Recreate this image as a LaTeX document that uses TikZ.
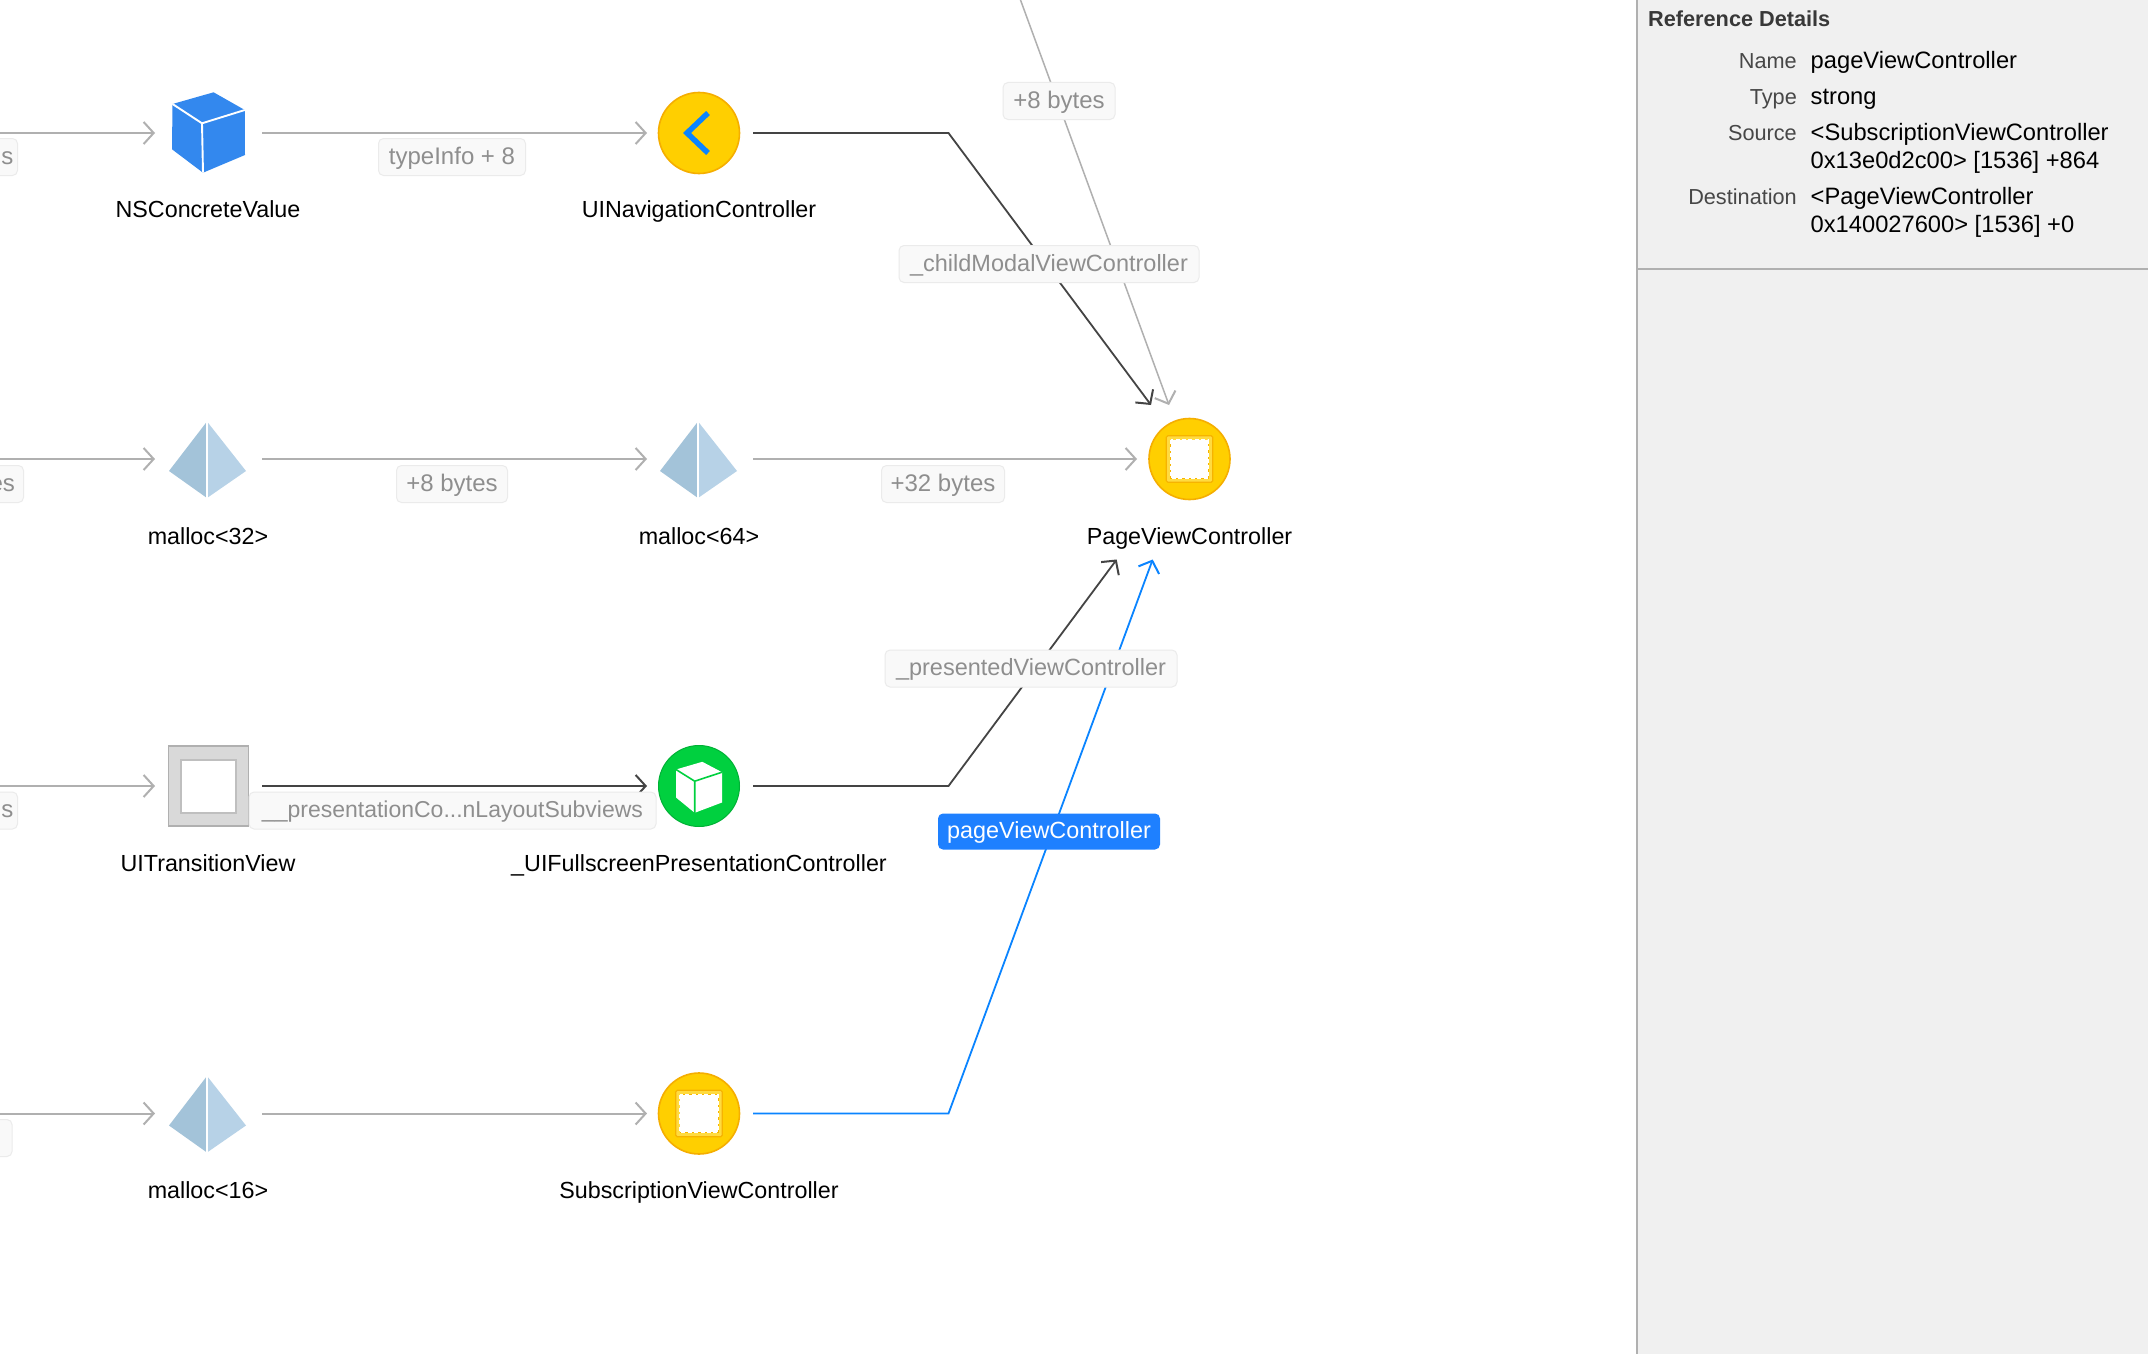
\documentclass[tikz,border=0pt]{standalone}
\usepackage{fontspec}
\setmainfont{Liberation Sans}
\usetikzlibrary{arrows.meta}
\definecolor{cgray}{HTML}{B0B0B0}
\definecolor{cdark}{HTML}{444444}
\definecolor{cblue}{HTML}{0A84FF}
\definecolor{selblue}{HTML}{1E80FF}
\definecolor{lblfill}{HTML}{F9F9F9}
\definecolor{lbledge}{HTML}{EBEBEB}
\definecolor{lbltext}{HTML}{8E8E8E}
\definecolor{panel}{HTML}{F0F0F0}
\definecolor{yfill}{HTML}{FFCF00}
\definecolor{yedge}{HTML}{F5AE00}
\definecolor{gfill}{HTML}{00D03F}
\definecolor{cubeblue}{HTML}{3388EE}
\definecolor{pyrL}{HTML}{A3C3D9}
\definecolor{pyrR}{HTML}{B7D2E7}
\tikzset{
  barbtip/.style={-{Straight Barb[length=10pt,width=22pt,line width=2pt]}},
  conn/.style={line width=2pt,color=cgray,barbtip},
  conndark/.style={line width=1.8pt,color=cdark,barbtip,line join=miter},
  connblue/.style={line width=1.8pt,color=cblue,barbtip},
  lbl/.style={rectangle,rounded corners=5pt,fill=lblfill,draw=lbledge,line width=1pt,text=lbltext,
    inner sep=0pt,minimum height=37pt,text height=20pt,text depth=6pt,font=\fontsize{23.5}{28}\selectfont},
  lblbig/.style={lbl,font=\fontsize{24}{28}\selectfont},
  lblsmall/.style={lbl,font=\fontsize{23}{28}\selectfont},
  lblsel/.style={rectangle,rounded corners=5pt,fill=selblue,text=white,inner sep=0pt,
    minimum height=36pt,text height=20pt,text depth=6pt,font=\fontsize{23.4}{28}\selectfont},
  captext/.style={anchor=base,text=black,inner sep=0pt,font=\fontsize{23.3}{28}\selectfont},
  anchorbox/.style={circle,minimum size=81pt,inner sep=0pt},
  ycirc/.style={anchorbox,fill=yfill,draw=yedge,line width=1.6pt},
  gcirc/.style={anchorbox,fill=gfill,draw=gfill!85!black,line width=1pt},
  keytext/.style={anchor=base east,inner sep=0pt,text=black!72,font=\fontsize{21.7}{26}\selectfont},
  valtext/.style={anchor=base west,inner sep=0pt,text=black,font=\fontsize{23.7}{28}\selectfont},
}
\begin{document}
\begin{tikzpicture}[x=1pt,y=-1pt]
\useasboundingbox (0,0) rectangle (2148,1354);
\fill[white] (0,0) rectangle (2148,1354);

% ---- panel
\fill[panel] (1637,0) rectangle (2148,1354);
\draw[cgray,line width=2pt] (1637,0) -- (1637,1354);
\draw[cgray,line width=2pt] (1637,268.5) -- (2148,268.5);

% ---- icon anchors
\node[anchorbox] (nsv) at (208,133) {};
\node[ycirc] (unc) at (699,133) {};
\node[anchorbox] (m32) at (208,459) {};
\node[anchorbox] (m64) at (699,459) {};
\node[ycirc] (pvc) at (1189.5,459) {};
\node[anchorbox] (utv) at (208,786) {};
\node[gcirc] (ufp) at (699,786) {};
\node[anchorbox] (m16) at (208,1113.5) {};
\node[ycirc] (svc) at (699,1113.5) {};

% ---- blue cube
\begin{scope}[shift={(nsv.center)}]
  \fill[cubeblue] (5.6,-40.7) -- (36.8,-23) -- (37,22) -- (-5,39.7) -- (-36,16.3) -- (-35.5,-29) -- cycle;
  \draw[white,line width=1.9pt] (-35.5,-29) -- (-6,-9.7) -- (36.8,-23) (-6,-9.7) -- (-5,39.7);
\end{scope}

% ---- pyramids
\foreach \n in {m32,m64,m16}{
\begin{scope}[shift={(\n.center)}]
  \fill[pyrL] (-1,-37.5) -- (-39,12) -- (-1,39) -- cycle;
  \fill[pyrR] (-1,-37.5) -- (38,12) -- (-1,39) -- cycle;
  \draw[white,line width=1.6pt] (-1,-38) -- (-1,39.5);
\end{scope}}

% ---- transition view
\begin{scope}[shift={(utv.center)}]
  \draw[fill=black!15,draw=cgray,line width=1.4pt] (-39.5,-40) rectangle (40.4,40);
  \draw[fill=white,draw=black!25,line width=2pt] (-26.6,-26.5) rectangle (27.5,26.5);
\end{scope}

% ---- chevron
\begin{scope}[shift={(unc.center)}]
  \draw[cblue,line width=5.5pt] (9,-20) -- (-12,0) -- (9,20);
\end{scope}

% ---- green cube
\begin{scope}[shift={(ufp.center)}]
  \fill[white] (3.3,-24.2) -- (23,-13.8) -- (23,16.5) -- (-4.3,26.8) -- (-23,11.5) -- (-23,-16.5) -- cycle;
  \draw[gfill,line width=1.6pt] (-23,-16.5) -- (-4.3,-4.8) -- (23,-13.8) (-4.3,-4.8) -- (-4.3,26.8);
\end{scope}

% ---- dashed square icons
\foreach \n in {pvc,svc}{
\begin{scope}[shift={(\n.center)}]
  \draw[fill=yfill!75!white,draw=yedge!85!yfill,line width=1.2pt,rounded corners=1.5pt] (-23.2,-23.2) rectangle (23.2,23.2);
  \fill[yedge!80!yfill] (-19.5,-19.5) rectangle (19.5,19.5);
  \draw[white,line width=2pt,dash pattern=on 4pt off 2.4pt,fill=white] (-18.7,-18.7) rectangle (18.7,18.7);
\end{scope}}

% ---- free ends and bends
\coordinate (src1) at (0,133);
\coordinate (src2) at (0,459);
\coordinate (src3) at (0,786);
\coordinate (src4) at (0,1113.5);
\coordinate (srctop) at (1020.5,0);
\coordinate (bend1) at (948.5,133);
\coordinate (bend3) at (948.5,786);
\coordinate (bend4) at (948.5,1113.5);

% ---- connectors
\draw[conn] (src1) -- ([xshift=-53pt]nsv.center);
\draw[conn] ([xshift=54pt]nsv.center) -- ([xshift=-52pt]unc.center);
\draw[conn] (src2) -- ([xshift=-53pt]m32.center);
\draw[conn] ([xshift=54pt]m32.center) -- ([xshift=-52pt]m64.center);
\draw[conn] ([xshift=54pt]m64.center) -- ([xshift=-52.5pt]pvc.center);
\draw[conn] (src3) -- ([xshift=-53pt]utv.center);
\draw[conndark] ([xshift=54pt]utv.center) -- ([xshift=-52pt]ufp.center);
\draw[conn] (src4) -- ([xshift=-53pt]m16.center);
\draw[conn] ([xshift=54pt]m16.center) -- ([xshift=-52pt]svc.center);
\draw[conn,line width=1.5pt] (srctop) -- ([xshift=-20.5pt,yshift=54pt]pvc.center);
\draw[conndark] ([xshift=54pt]unc.center) -- (bend1) -- ([xshift=-38.5pt,yshift=54pt]pvc.center);
\draw[conndark] ([xshift=54pt]ufp.center) -- (bend3) -- ([xshift=-72.8pt,yshift=-100.5pt]pvc.center);
\draw[connblue] ([xshift=54pt]svc.center) -- (bend4) -- ([xshift=-36.8pt,yshift=-100.5pt]pvc.center);

% ---- edge labels
\node[lblbig,text width=60pt,align=right] (l1) at (-12.5,157) {s\hspace*{4pt}};
\node[lblbig,text width=60pt,align=right] (l2) at (-6.5,484) {es\hspace*{8.5pt}};
\node[lblbig,text width=60pt,align=right] (l3) at (-12.5,810.5) {s\hspace*{4pt}};
\node[lbl,minimum width=60pt] (l4) at (-18,1138) {};
\node[lblbig,minimum width=147pt] (ltype) at (452,157) {typeInfo + 8};
\node[lblbig,minimum width=111pt] (lb8) at (452,484) {+8 bytes};
\node[lblbig,minimum width=123pt] (lb32) at (943,484) {+32 bytes};
\node[lblsmall,minimum width=407pt] (lpres) at (452.5,810.5) {\_\_presentationCo...nLayoutSubviews};
\node[lblbig,minimum width=112pt] (ltop) at (1059,101) {+8 bytes};
\node[lbl,minimum width=300pt] (lchild) at (1049,264) {\_childModalViewController};
\node[lbl,minimum width=292pt] (lpresd) at (1031,668.5) {\_presentedViewController};
\node[lblsel,minimum width=222pt] (lpage) at (1049,831.5) {pageViewController};

% ---- captions
\node[captext] (c1) at (208,217) {NSConcreteValue};
\node[captext] (c2) at (699,217) {UINavigationController};
\node[captext] (c3) at (208,544) {malloc<32>};
\node[captext] (c4) at (699,544) {malloc<64>};
\node[captext] (c5) at (1189.5,544) {PageViewController};
\node[captext] (c6) at (208,871.5) {UITransitionView};
\node[captext] (c7) at (699,871.5) {\_UIFullscreenPresentationController};
\node[captext] (c8) at (208,1198) {malloc<16>};
\node[captext] (c9) at (699,1198) {SubscriptionViewController};

% ---- panel text
\node[anchor=base west,inner sep=0pt,text=black!78,font=\fontsize{21.7}{26}\selectfont\bfseries] (ph) at (1648,27) {Reference Details};
\node[keytext] (k1) at (1797,69) {Name};
\node[valtext] (v1) at (1810.5,69) {pageViewController};
\node[keytext] (k2) at (1797,104) {Type};
\node[valtext] (v2) at (1810.5,104) {strong};
\node[keytext] (k3) at (1797,140) {Source};
\node[valtext] (v3) at (1810.5,140) {<SubscriptionViewController};
\node[valtext] (v3b) at (1810.5,168) {0x13e0d2c00> [1536] +864};
\node[keytext] (k4) at (1797,204) {Destination};
\node[valtext] (v4) at (1810.5,204) {<PageViewController};
\node[valtext] (v4b) at (1810.5,232) {0x140027600> [1536] +0};
\end{tikzpicture}
\end{document}
